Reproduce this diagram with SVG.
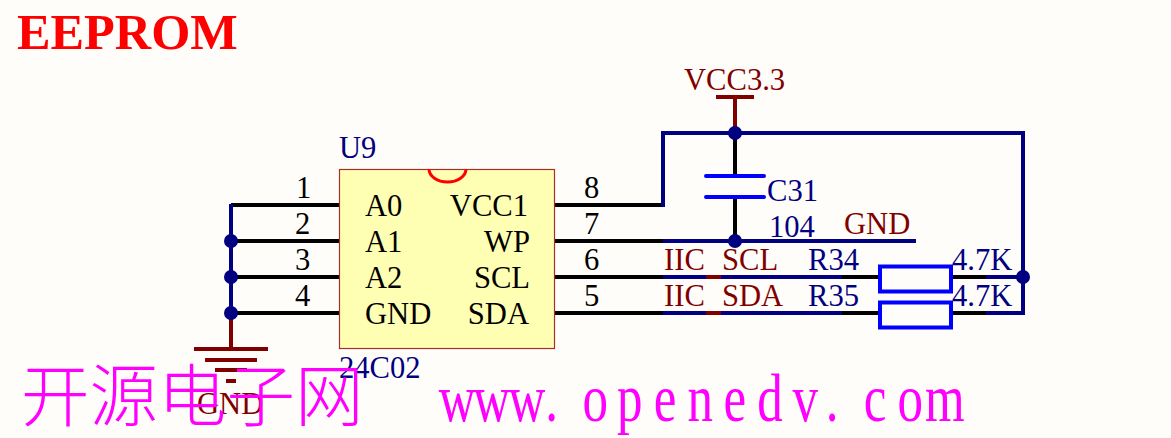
<svg xmlns="http://www.w3.org/2000/svg" width="1171" height="438" viewBox="0 0 1171 438">
<style>
text{font-family:"Liberation Serif","Times New Roman",serif;font-size:30.600px}
.blk{fill:#000}.nv{fill:#000080}.mr{fill:#800000}
.w{fill:none;stroke-width:4;stroke-linecap:butt}
.k{stroke:#000}.b{stroke:#000080}.r{stroke:#800000}
.p{fill:none;stroke:#0000ff;stroke-width:4}
.j{fill:#000080}
.mg{fill:#ff00ff}
</style>
<rect width="1171" height="438" fill="#fffdf9"/>
<text id="title" x="17" y="49" fill="#ff0000" font-weight="bold" style="font-size:50.300px">EEPROM</text>
<g id="connectors">
<path class="w k" d="M231 205H339M231 241H339M231 277H339M231 313H339"/>
<path class="w b" d="M231 204V313"/>
<path class="w r" d="M231 313V349"/>
<path class="w k" d="M555 205H663M555 241H663M555 277H663M555 313H663"/>
<path class="w b" d="M661 205H663V133H1023V313H986M663 241H916M663 277H842M663 313H842M986 277H1023"/>
<path class="w k" d="M842 277H880M842 313H880M951 277H986M951 313H986"/>
<path class="w r" d="M735 97V133"/>
<path class="w k" d="M735 133V174M735 199V241"/>
<path class="w r" d="M706 277H721M706 313H721"/>
<circle class="j" cx="231" cy="241" r="7"/>
<circle class="j" cx="231" cy="277" r="7"/>
<circle class="j" cx="231" cy="313" r="7"/>
<circle class="j" cx="735" cy="133" r="7"/>
<circle class="j" cx="735" cy="241" r="7"/>
<circle class="j" cx="1023" cy="277" r="7"/>
</g>
<g id="U9">
<rect x="339.500" y="169.500" width="215" height="179" fill="#ffffb4" stroke="#a5302a" stroke-width="1.200"/>
<path d="M429 169A18.500 13 0 0 0 466 169" fill="none" stroke="#ff0000" stroke-width="3"/>
<text class="nv" x="339" y="158">U9</text>
<text class="nv" x="339" y="378">24C02</text>
<text class="blk" x="365" y="216">A0</text>
<text class="blk" x="365" y="252">A1</text>
<text class="blk" x="365" y="288">A2</text>
<text class="blk" x="365" y="324">GND</text>
<text class="blk" x="528" y="216" text-anchor="end">VCC1</text>
<text class="blk" x="530" y="252" text-anchor="end">WP</text>
<text class="blk" x="530" y="288" text-anchor="end">SCL</text>
<text class="blk" x="529" y="324" text-anchor="end">SDA</text>
<text class="blk" x="296" y="198">1</text>
<text class="blk" x="295" y="234">2</text>
<text class="blk" x="295" y="270">3</text>
<text class="blk" x="295" y="306">4</text>
<text class="blk" x="584" y="198">8</text>
<text class="blk" x="584" y="234">7</text>
<text class="blk" x="584" y="270">6</text>
<text class="blk" x="584" y="306">5</text>
</g>
<g id="GND1">
<path class="w r" d="M194 349H268M205 360H257M215 370H247M226 381H236"/>
<text class="mr" x="197" y="414">GND</text>
</g>
<g id="VCC33">
<path class="w r" d="M716 97H754"/>
<text class="mr" x="684" y="90">VCC3.3</text>
</g>
<g id="C31">
<path class="p" stroke-linecap="round" d="M706 176H764M706 197H764"/>
<text class="nv" x="767" y="201">C31</text>
<text class="nv" x="769" y="237">104</text>
</g>
<g id="GND2"><text class="mr" x="844" y="234">GND</text></g>
<g id="IIC_SCL"><text class="mr" x="664" y="270">IIC</text><text class="mr" x="722" y="270">SCL</text></g>
<g id="IIC_SDA"><text class="mr" x="664" y="306">IIC</text><text class="mr" x="722" y="306">SDA</text></g>
<g id="R34">
<rect class="p" x="880" y="266.500" width="71" height="25"/>
<text class="nv" x="808" y="270">R34</text>
<text class="nv" x="952" y="270">4.7K</text>
</g>
<g id="R35">
<rect class="p" x="880" y="302.500" width="71" height="25"/>
<text class="nv" x="808" y="306">R35</text>
<text class="nv" x="952" y="306">4.7K</text>
</g>
<g id="watermark">
<text class="mg" x="21" y="421" font-weight="200" style="font-family:'Noto Sans CJK SC','Noto Sans CJK JP',sans-serif;font-size:68.500px">开源电子网</text>
<text class="mg" transform="translate(440 421) scale(.75 1)" x="23 69 116 149 207 253 300 347 393 440 487 523 580 627 673" text-anchor="middle" style="font-size:68px">www.openedv.com</text>
</g>
</svg>
